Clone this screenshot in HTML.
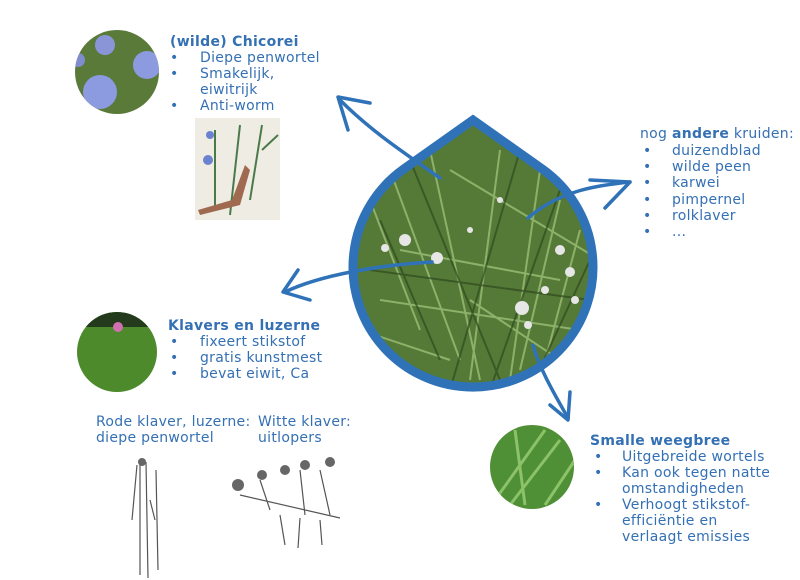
<!DOCTYPE html>
<html><head><meta charset="utf-8"><style>
html,body{margin:0;padding:0;background:#fff;}
svg{display:block}
text{font-family:"DejaVu Sans","Liberation Sans",sans-serif;font-size:14px;letter-spacing:0.3px;fill:#3470b4;}
.b{font-weight:bold;}
</style></head><body>
<svg width="800" height="580" viewBox="0 0 800 580" xmlns="http://www.w3.org/2000/svg">
<defs>
<clipPath id="drop"><path d="M473,120 L542.3,169.1 A120 120 0 1 1 403.7,169.1 Z"/></clipPath>
<clipPath id="c1"><circle cx="117" cy="72" r="42"/></clipPath>
<clipPath id="c2"><circle cx="117" cy="352" r="40"/></clipPath>
<clipPath id="c3"><circle cx="532" cy="467" r="42"/></clipPath>
</defs>

<g clip-path="url(#drop)">
<rect x="340" y="110" width="270" height="290" fill="#557a38"/>
<g stroke="#9cbf75" stroke-width="2" fill="none" opacity="0.8">
<path d="M370,200 L420,330 M390,170 L460,360 M430,150 L480,380 M500,150 L470,380 M540,170 L510,380 M560,200 L520,370 M580,230 L540,380 M400,250 L560,280 M380,300 L580,330 M450,170 L600,260 M360,330 L450,360 M470,300 L560,360"/>
</g>
<g stroke="#2f4a1e" stroke-width="2" fill="none" opacity="0.7">
<path d="M380,220 L440,360 M410,160 L500,380 M520,150 L450,390 M560,190 L490,390 M590,260 L530,390 M370,270 L590,300"/>
</g>
<g fill="#e6e6e6">
<circle cx="405" cy="240" r="6"/><circle cx="437" cy="258" r="6"/><circle cx="522" cy="308" r="7"/>
<circle cx="560" cy="250" r="5"/><circle cx="570" cy="272" r="5"/><circle cx="545" cy="290" r="4"/>
<circle cx="385" cy="248" r="4"/><circle cx="500" cy="200" r="3"/><circle cx="470" cy="230" r="3"/>
<circle cx="528" cy="325" r="4"/><circle cx="575" cy="300" r="4"/>
</g>
</g>
<path d="M473,120 L542.3,169.1 A120 120 0 1 1 403.7,169.1 Z" fill="none" stroke="#2f72b8" stroke-width="9" stroke-linejoin="miter"/>

<g stroke="#2f72b8" stroke-width="3.5" fill="none" stroke-linecap="round" stroke-linejoin="round">
<path d="M440,178 C400,150 370,130 340,100"/>
<path d="M348,130 L338,97 L370,103"/>
<path d="M528,218 C560,190 600,185 630,182"/>
<path d="M590,180 L630,182 L605,208"/>
<path d="M432,262 C380,265 320,275 285,292"/>
<path d="M298,270 L283,292 L310,300"/>
<path d="M533,345 C540,370 555,395 568,418"/>
<path d="M550,405 L568,420 L570,392"/>
</g>

<g clip-path="url(#c1)">
<rect x="70" y="25" width="95" height="95" fill="#5a7a3a"/>
<circle cx="100" cy="92" r="17" fill="#8c9be0"/><circle cx="147" cy="65" r="14" fill="#8c9be0"/>
<circle cx="105" cy="45" r="10" fill="#8a95d8"/><circle cx="78" cy="60" r="7" fill="#7f8cd0"/>
</g>
<text x="170" y="46" class="b">(wilde) Chicorei</text>
<text x="170" y="62">•</text><text x="200" y="62">Diepe penwortel</text>
<text x="170" y="78">•</text><text x="200" y="78">Smakelijk,</text>
<text x="200" y="94">eiwitrijk</text>
<text x="170" y="110">•</text><text x="200" y="110">Anti-worm</text>
<rect x="195" y="118" width="85" height="102" fill="#efece4"/>
<g stroke="#4b7a4a" stroke-width="2" fill="none"><path d="M215,210 L215,130 M230,215 L240,125 M250,200 L262,125 M262,150 L278,135"/></g>
<path d="M200,215 L240,205 L250,170 L245,165 L232,200 L198,210Z" fill="#a06a50"/>
<circle cx="208" cy="160" r="5" fill="#6a82d0"/><circle cx="210" cy="135" r="4" fill="#6a82d0"/>

<text x="640" y="138">nog <tspan class="b">andere</tspan> kruiden:</text>
<text x="643" y="155">•</text><text x="672" y="155">duizendblad</text>
<text x="643" y="171">•</text><text x="672" y="171">wilde peen</text>
<text x="643" y="187">•</text><text x="672" y="187">karwei</text>
<text x="643" y="204">•</text><text x="672" y="204">pimpernel</text>
<text x="643" y="220">•</text><text x="672" y="220">rolklaver</text>
<text x="643" y="236">•</text><text x="672" y="236">...</text>

<g clip-path="url(#c2)">
<rect x="70" y="305" width="95" height="95" fill="#4c8a2c"/>
<rect x="70" y="305" width="95" height="22" fill="#233a1c"/>
<circle cx="118" cy="327" r="5" fill="#d070b0"/>
</g>
<text x="168" y="330" class="b">Klavers en luzerne</text>
<text x="170" y="346">•</text><text x="200" y="346">fixeert stikstof</text>
<text x="170" y="362">•</text><text x="200" y="362">gratis kunstmest</text>
<text x="170" y="378">•</text><text x="200" y="378">bevat eiwit, Ca</text>
<text x="96" y="426">Rode klaver, luzerne:</text>
<text x="96" y="442">diepe penwortel</text>
<text x="258" y="426">Witte klaver:</text>
<text x="258" y="442">uitlopers</text>
<g stroke="#555" stroke-width="1.2" fill="none">
<path d="M140,460 L140,575 M146,462 L148,578 M156,470 L158,570 M137,465 L132,520 M150,500 L155,520"/>
<path d="M240,495 L340,518 M260,480 L270,510 M300,470 L305,515 M320,470 L330,515 M280,515 L285,545 M300,518 L298,548 M320,520 L322,545"/>
</g>
<g fill="#666"><circle cx="142" cy="462" r="4"/><circle cx="238" cy="485" r="6"/><circle cx="262" cy="475" r="5"/><circle cx="285" cy="470" r="5"/><circle cx="305" cy="465" r="5"/><circle cx="330" cy="462" r="5"/></g>

<g clip-path="url(#c3)">
<rect x="485" y="420" width="95" height="95" fill="#4f8f36"/>
<g stroke="#8cc268" stroke-width="3"><path d="M495,500 L545,430 M510,505 L560,440 M525,505 L515,430 M545,505 L575,460"/></g>
</g>
<text x="590" y="445" class="b">Smalle weegbree</text>
<text x="594" y="461">•</text><text x="622" y="461">Uitgebreide wortels</text>
<text x="594" y="477">•</text><text x="622" y="477">Kan ook tegen natte</text>
<text x="622" y="493">omstandigheden</text>
<text x="594" y="509">•</text><text x="622" y="509">Verhoogt stikstof-</text>
<text x="622" y="525">efficiëntie en</text>
<text x="622" y="541">verlaagt emissies</text>
</svg>
</body></html>
